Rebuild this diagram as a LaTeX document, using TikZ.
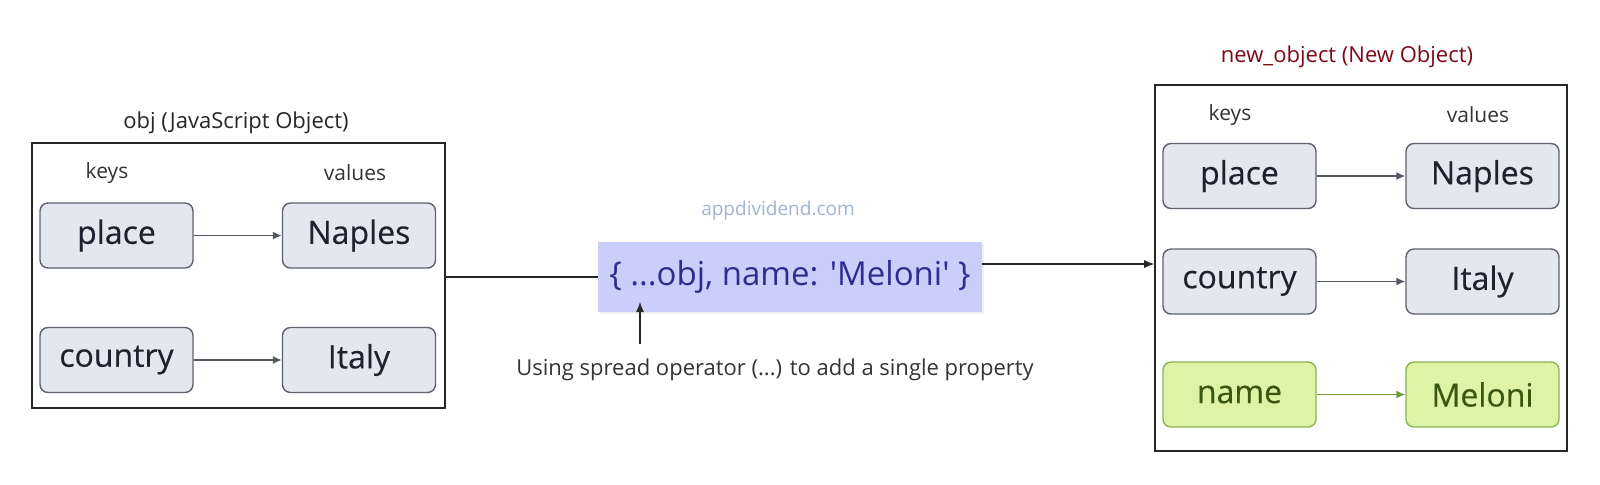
\documentclass[tikz,border=0pt]{standalone}
\usepackage{fontspec}
\setmainfont{Open Sans}
\newfontfamily\boxfont[FakeBold=0.35]{Open Sans}
\usetikzlibrary{arrows.meta,shadows}

\definecolor{kfill}{HTML}{E4E7F0}
\definecolor{kdraw}{HTML}{5E626C}
\definecolor{ktext}{HTML}{1E2230}
\definecolor{gfill}{HTML}{DDF4A6}
\definecolor{gdraw}{HTML}{8CB251}
\definecolor{gtext}{HTML}{3A5712}
\definecolor{garrow}{HTML}{6F9A3A}
\definecolor{efill}{HTML}{C9CEFA}
\definecolor{etext}{HTML}{2C2E8E}
\definecolor{site}{HTML}{9DB4D2}
\definecolor{newred}{HTML}{7C0A16}

\begin{document}
\begin{tikzpicture}[x=0.5pt,y=-0.5pt,
  kbox/.style={draw=kdraw,fill=kfill,text=ktext,line width=0.7pt,rounded corners=4pt,
    minimum width=76.5pt,minimum height=32.5pt,inner sep=0pt,font=\boxfont\fontsize{16}{19}\selectfont},
  gbox/.style={kbox,draw=gdraw,fill=gfill,text=gtext},
  frame/.style={draw=black!85,line width=0.8pt,inner sep=0pt},
  ttl/.style={font=\fontsize{11}{13}\selectfont,text=black!85},
  lbl/.style={font=\fontsize{10.5}{13}\selectfont,text=black!80},
  arr/.style={draw=kdraw!90!black,line width=0.75pt,-{Latex[length=4.5pt,width=4pt]}},
  link/.style={draw=black!85,line width=0.6pt}]
\useasboundingbox (0,0) rectangle (1600,484);

% obj
\node[ttl] (objt) at (236,123) {obj (JavaScript Object)};
\node[frame,minimum width=206.5pt,minimum height=132.5pt] (obj) at (238.5,275.5) {};
\node[lbl] (k1) at (107,173) {keys};
\node[lbl] (v1) at (355,173) {values};
\node[kbox] (p1) at (116.5,235.5) {place};
\node[kbox] (n1) at (359,235.5) {Naples};
\node[kbox] (c1) at (116.5,360) {country};
\node[kbox] (i1) at (359,360) {Italy};
\draw[arr] (p1) -- (n1);
\draw[arr] (c1) -- (i1);

% spread
\node[font=\fontsize{9.5}{12}\selectfont,text=site] (site) at (778,211) {appdividend.com};
\node[fill=efill,text=etext,minimum width=192pt,minimum height=35pt,inner sep=0pt,
  drop shadow={opacity=0.12,shadow xshift=0.8pt,shadow yshift=-0.8pt},
  font=\fontsize{16.5}{20}\selectfont] (expr) at (790,277)
  {\{ ...obj, name: \textquotesingle Meloni\textquotesingle{} \}};
\node[font=\fontsize{11}{13}\selectfont,text=black!80] (note) at (775,370) {Using spread operator (...) to add a single property};
\coordinate (tip) at (640,302);
\draw[link,-{Latex[length=5pt,width=4pt]}] ([yshift=4pt]tip |- note.north) -- (tip);

% new_object
\node[ttl,text=newred] (newt) at (1347,57) {new\_object (New Object)};
\node[frame,minimum width=206pt,minimum height=183pt] (new) at (1361,268) {};
\node[lbl] (k2) at (1230,115) {keys};
\node[lbl] (v2) at (1478,115) {values};
\node[kbox] (p2) at (1239.5,176) {place};
\node[kbox] (n2) at (1482.5,176) {Naples};
\node[kbox] (c2) at (1239.5,281.5) {country};
\node[kbox] (i2) at (1482.5,281.5) {Italy};
\node[gbox] (m2) at (1239.5,394.5) {name};
\node[gbox] (l2) at (1482.5,394.5) {Meloni};
\draw[arr] (p2) -- (n2);
\draw[arr] (c2) -- (i2);
\draw[arr,draw=garrow] (m2) -- (l2);

% links
\draw[link] (expr.west -| obj.east) -- (expr.west);
\draw[link,-{Latex[length=5pt,width=4pt]}] ([yshift=6.5pt]expr.east) coordinate (a) -- (a -| new.west);
\end{tikzpicture}
\end{document}
